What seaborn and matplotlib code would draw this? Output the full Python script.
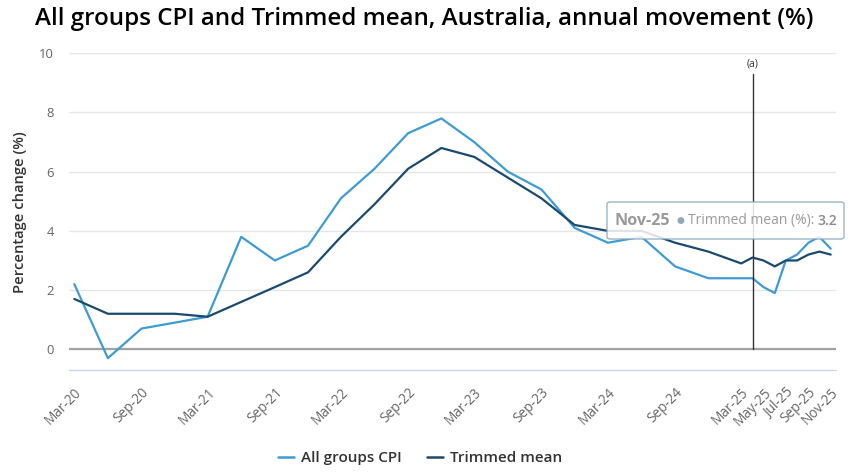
import matplotlib
matplotlib.use("Agg")
import matplotlib.pyplot as plt
from matplotlib.patches import FancyBboxPatch
from matplotlib.lines import Line2D
import pandas as pd
import seaborn as sns

# ---------------- data ----------------
quarter_labels = ["Mar-20", "Jun-20", "Sep-20", "Dec-20", "Mar-21", "Jun-21", "Sep-21", "Dec-21",
                  "Mar-22", "Jun-22", "Sep-22", "Dec-22", "Mar-23", "Jun-23", "Sep-23", "Dec-23",
                  "Mar-24", "Jun-24", "Sep-24", "Dec-24", "Mar-25"]
month_labels = ["Apr-25", "May-25", "Jun-25", "Jul-25", "Aug-25", "Sep-25", "Oct-25", "Nov-25"]

cpi_quarterly = [2.2, -0.3, 0.7, 0.9, 1.1, 3.8, 3.0, 3.5, 5.1, 6.1, 7.3, 7.8, 7.0, 6.0, 5.4, 4.1,
                 3.6, 3.8, 2.8, 2.4, 2.4]
cpi_monthly = [2.4, 2.1, 1.9, 3.0, 3.2, 3.6, 3.8, 3.4]

trimmed_quarterly = [1.7, 1.2, 1.2, 1.2, 1.1, 1.6, 2.1, 2.6, 3.8, 4.9, 6.1, 6.8, 6.5, 5.8, 5.1, 4.2,
                     4.0, 4.0, 3.6, 3.3, 2.9]
trimmed_monthly = [3.1, 3.0, 2.8, 3.0, 3.0, 3.2, 3.3, 3.2]

tick_labels = ["Mar-20", "Sep-20", "Mar-21", "Sep-21", "Mar-22", "Sep-22", "Mar-23", "Sep-23",
               "Mar-24", "Sep-24", "Mar-25", "May-25", "Jul-25", "Sep-25", "Nov-25"]
y_ticks = [0, 2, 4, 6, 8, 10]

series_names = ["All groups CPI", "Trimmed mean"]
colors = ["#3f9bd3", "#1b4a6f"]

marker_label = "Apr-25"
marker_text = "(a)"
tooltip_period = "Nov-25"
tooltip_series = "Trimmed mean (%)"
tooltip_value = "3.2"

title = "All groups CPI and Trimmed mean, Australia, annual movement (%)"
ylabel = "Percentage change (%)"

# ---------------- build table ----------------
def to_date(s):
    return pd.to_datetime(s, format="%b-%y")

periods = quarter_labels + month_labels
dates = [to_date(p) for p in periods]
df = pd.concat([
    pd.DataFrame({"date": dates, "value": cpi_quarterly + cpi_monthly, "series": series_names[0]}),
    pd.DataFrame({"date": dates, "value": trimmed_quarterly + trimmed_monthly, "series": series_names[1]}),
], ignore_index=True)

# ---------------- figure ----------------
sns.set_theme(style="white")
plt.rcParams["font.family"] = ["Open Sans", "DejaVu Sans"]

W, H = 860, 474
fig = plt.figure(figsize=(W / 100, H / 100), dpi=100)

def fx(px):
    return px / W

def fy(py):
    return 1 - py / H

ax_l, ax_r, ax_t, ax_b = 69, 836, 53.3, 370
ax = fig.add_axes([fx(ax_l), fy(ax_b), fx(ax_r - ax_l), (ax_b - ax_t) / H])

sns.lineplot(data=df, x="date", y="value", hue="series", palette=colors,
             hue_order=series_names, linewidth=1.6, ax=ax, legend=False, sort=True)

pad = pd.Timedelta(days=14.5)
ax.set_xlim(dates[0] - pad, dates[-1] + pad)
ax.set_ylim(-0.7, 10)

# grid
ax.set_yticks(y_ticks)
ax.yaxis.grid(True, color="#e6e6e6", linewidth=1)
ax.xaxis.grid(False)
ax.set_axisbelow(True)
ax.axhline(0, color="#a3a3a3", linewidth=1.6, zorder=1.5)

for s in ["top", "right", "left"]:
    ax.spines[s].set_visible(False)
ax.spines["bottom"].set_color("#ccd6eb")
ax.spines["bottom"].set_linewidth(1)

ax.set_xticks([to_date(t) for t in tick_labels])
ax.set_xticklabels(tick_labels, rotation=45, ha="right", rotation_mode="anchor",
                   fontsize=9.8, color="#666666")
ax.tick_params(axis="x", length=0, pad=11)
ax.tick_params(axis="y", length=0, pad=11, labelsize=9.4, labelcolor="#666666")
ax.set_xlabel("")
ax.set_ylabel("")

# vertical marker line
mx = to_date(marker_label)
ax.plot([mx, mx], [0, 9.31], color="#333333", linewidth=1.0, zorder=4)
ax.text(mx, 9.65, marker_text, ha="center", va="center", fontsize=7.5, color="#333333")

# titles
fig.text(fx(35), fy(19), title, ha="left", va="center", fontsize=17.4,
         fontweight="semibold", color="#000000")
fig.text(fx(20), fy(212), ylabel, rotation=90, ha="center", va="center",
         fontsize=10.6, fontweight="semibold", color="#333333")

# legend
handles = [Line2D([0], [0], color=c, linewidth=1.8) for c in colors]
leg = fig.legend(handles, series_names, loc="center", bbox_to_anchor=(fx(420), fy(458)),
                 ncol=2, frameon=False, handlelength=1.1, handletextpad=0.45,
                 columnspacing=1.6, prop={"weight": "semibold", "size": 11.0})
for t in leg.get_texts():
    t.set_color("#333333")

# tooltip box
box = FancyBboxPatch((fx(607), fy(239)), fx(844 - 607), (239 - 202) / H,
                     boxstyle="round,pad=0,rounding_size=0.004", transform=fig.transFigure,
                     facecolor="white", edgecolor="#8aa7bf", linewidth=1, alpha=0.85, zorder=10)
fig.add_artist(box)
fig.canvas.draw()
renderer = fig.canvas.get_renderer()

def chain(x_px, s, **kw):
    t = fig.text(fx(x_px), fy(221), s, ha="left", va="center", zorder=11, **kw)
    bb = t.get_window_extent(renderer=renderer)
    return bb.x1

x = chain(615, tooltip_period, fontsize=11.6, fontweight="bold", color="#9a9a9a")
chain(x + 6, "\u25CF", fontsize=6.5, color="#8fa8bd")
x = chain(x + 17, tooltip_series + ": ", fontsize=10.0, color="#9a9a9a")
chain(x, tooltip_value, fontsize=10.0, fontweight="semibold", color="#8a8a8a")

fig.savefig("out.png", dpi=100)
